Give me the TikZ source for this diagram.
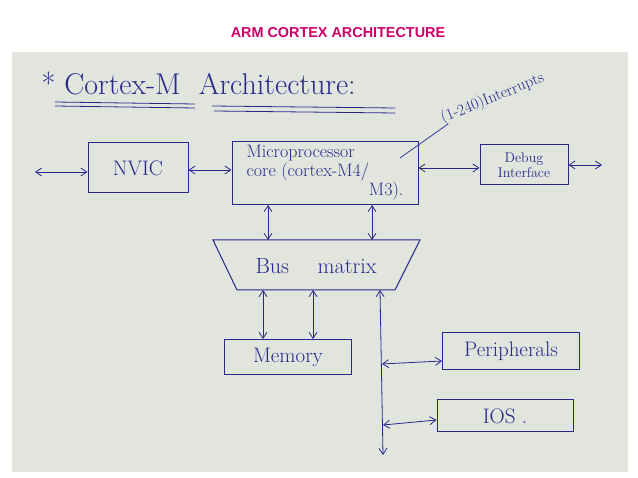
\documentclass[tikz,border=0pt]{standalone}
\usepackage{fontspec}
\newfontfamily\titlefont{Liberation Sans}
\usetikzlibrary{arrows.meta}
\definecolor{ink}{RGB}{40,40,140}
\definecolor{paper}{RGB}{226,228,222}
\definecolor{ttl}{RGB}{204,0,102}
\tikzset{
 blk/.style={draw=ink,line width=1pt,text=ink,font=\fontsize{21}{23}\selectfont,inner sep=2pt},
 con/.style={draw=ink,line width=0.8pt,{Straight Barb[length=6pt,width=8pt]}-{Straight Barb[length=6pt,width=8pt]}}
}
\begin{document}
\begin{tikzpicture}[x=1pt,y=-1pt]
\useasboundingbox (0,0) rectangle (638,478);
\fill[white] (0,0) rectangle (638,478);
\fill[paper] (12,52) rectangle (628,472);
\node[font=\titlefont\bfseries\Large,text=ttl] (title) at (338,33) {ARM CORTEX ARCHITECTURE};
\node[text=ink,font=\fontsize{30}{32}\selectfont,anchor=west] (head) at (38,84) {* Cortex-M \ Architecture:};
\draw[ink,line width=0.8pt] (55,102) -- (195,104) (55,106) -- (195,108) (212,106) -- (395,108) (214,111) -- (395,113);
% boxes
\node[blk,minimum width=100pt,minimum height=50pt] (nvic) at (138,168) {NVIC};
\node[blk,minimum width=186pt,minimum height=63pt,align=left,font=\fontsize{18}{19}\selectfont,inner sep=1pt] (cpu) at (325,173) {Microprocessor\\core (cortex-M4/\\\hspace*{6.8em}M3).};
\node[blk,minimum width=88pt,minimum height=40pt,align=center,font=\fontsize{14}{15}\selectfont,inner sep=1pt] (dbg) at (524,165) {Debug\\Interface};
% bus matrix trapezoid
\coordinate (btl) at (213,240); \coordinate (btr) at (420,240);
\coordinate (bbl) at (237,290); \coordinate (bbr) at (395,290);
\draw[ink,line width=1pt] (btl) -- (btr) -- (bbr) -- (bbl) -- cycle;
\node[text=ink,font=\fontsize{22}{24}\selectfont] (bus) at (316,266) {Bus \quad matrix};
\node[blk,minimum width=127pt,minimum height=35pt] (mem) at (288,357) {Memory};
\node[blk,minimum width=137pt,minimum height=37pt] (per) at (511,351) {Peripherals};
\node[blk,minimum width=136pt,minimum height=32pt] (ios) at (505,416) {IOS .};
% connectors
\coordinate (lend) at (35,172);
\coordinate (rend) at (602,165);
\draw[con] (lend) -- (nvic.west |- lend);
\draw[con] (nvic.east |- 0,170) -- (cpu.west |- 0,170);
\draw[con] (cpu.east |- 0,168) -- (dbg.west |- 0,168);
\draw[con] (dbg.east |- rend) -- (rend);
\draw[con] (cpu.south -| 268,0) -- (268,240);
\draw[con] (cpu.south -| 372,0) -- (372,240);
\draw[con] (263,290) -- (mem.north -| 263,0);
\draw[con] (313,290) -- (mem.north -| 313,0);
\coordinate (bustap) at (380,290);
\coordinate (busend) at (383,455);
\draw[con] (bustap) -- (busend);
\coordinate (tp) at (382,364);
\coordinate (ti) at (383,425);
\draw[con] (tp) -- (per.west |- 0,361);
\draw[con] (ti) -- (ios.west |- 0,420);
% interrupts
\coordinate (ia) at (400,158);
\coordinate (ib) at (448,124);
\draw[ink,line width=0.7pt] (ia) -- (ib);
\node[text=ink,font=\fontsize{16}{17}\selectfont,rotate=22,anchor=south west,inner sep=1pt] (intr) at (444,128) {(1-240)Interrupts};
\end{tikzpicture}
\end{document}
